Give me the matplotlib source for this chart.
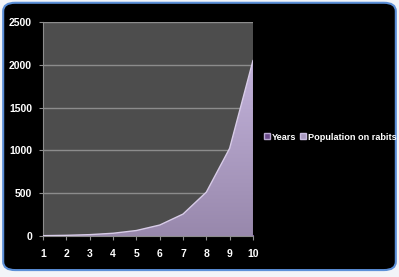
import matplotlib
matplotlib.use("Agg")
import matplotlib.pyplot as plt
import numpy as np
from matplotlib.patches import FancyBboxPatch, Polygon
from matplotlib.lines import Line2D
from matplotlib.colors import LinearSegmentedColormap

plt.rcParams['font.family'] = ['Liberation Sans', 'DejaVu Sans']

years = [1, 2, 3, 4, 5, 6, 7, 8, 9, 10]
population = [4, 8, 16, 32, 64, 128, 256, 512, 1024, 2048]
y_ticks = [0, 500, 1000, 1500, 2000, 2500]
series_names = ["Years", "Population on rabits"]

fig = plt.figure(figsize=(3.99, 2.77), dpi=100)
fig.patch.set_facecolor("#f2f4f8")

# black rounded panel with blue border
panel = FancyBboxPatch((0.008, 0.025), 0.984, 0.965, boxstyle="round,pad=0,rounding_size=0.03",
                       transform=fig.transFigure, facecolor="black", edgecolor="#5b8fd8",
                       linewidth=1.5, zorder=-10)
fig.patches.append(panel)

ax = fig.add_axes([0.108, 0.148, 0.526, 0.773])
ax.set_facecolor("#4d4d4d")
ax.set_xlim(1, 10)
ax.set_ylim(0, 2500)
ax.set_yticks(y_ticks)
ax.set_xticks(years)
ax.grid(axis="y", color="#8c8c8c", linewidth=1)
ax.set_axisbelow(True)
for s in ["top", "right"]:
    ax.spines[s].set_visible(False)
for s in ["left", "bottom"]:
    ax.spines[s].set_color("#8c8c8c")
ax.tick_params(colors="#8c8c8c", length=3, labelcolor="white", labelsize=7.5)
ax.tick_params(axis="x", pad=6)
ax.tick_params(axis="y", pad=5)
for lab in ax.get_xticklabels() + ax.get_yticklabels():
    lab.set_fontweight("bold")

# Years series (tiny area)
ax.fill_between(years, 0, years, color="#7a5a9a", zorder=2)

# Population area with gradient
verts = [(years[0], 0)] + list(zip(years, population)) + [(years[-1], 0)]
poly = Polygon(verts, closed=True, facecolor="none", edgecolor="none")
ax.add_patch(poly)
grad = np.linspace(0, 1, 256).reshape(-1, 1)
cmap = LinearSegmentedColormap.from_list("g", ["#9888ac", "#c4b4dc"])
im = ax.imshow(grad, extent=[1, 10, 0, 2100], origin="lower", cmap=cmap, aspect="auto", zorder=3)
im.set_clip_path(poly)
ax.plot(years, population, color="#d8cce8", linewidth=1, zorder=4)
ax.set_xlim(1, 10)
ax.set_ylim(0, 2500)

handles = [Line2D([], [], marker="s", linestyle="none", markersize=4, markerfacecolor="#6a4a8a", markeredgecolor="#b8a8d0"),
           Line2D([], [], marker="s", linestyle="none", markersize=4, markerfacecolor="#a898c0", markeredgecolor="#c8bce0")]
leg = fig.legend(handles, series_names, loc="center left", bbox_to_anchor=(0.663, 0.505), ncol=2,
                 frameon=False, fontsize=6.6, handlelength=0.6, handletextpad=0.25, columnspacing=0.4,
                 borderaxespad=0, borderpad=0)
for t in leg.get_texts():
    t.set_color("white")
    t.set_fontweight("bold")

fig.savefig("out.png", dpi=100, facecolor=fig.get_facecolor())
